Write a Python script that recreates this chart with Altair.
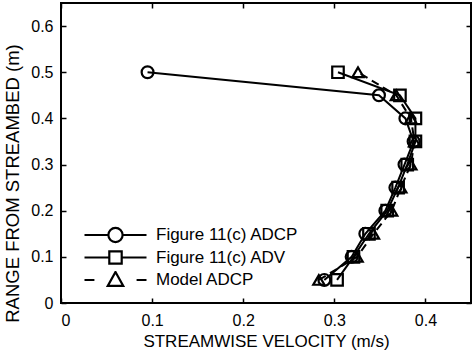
import altair as alt
import pandas as pd

depth = [0.05, 0.10, 0.15, 0.20, 0.25, 0.30, 0.35, 0.40, 0.45, 0.50]
adcp = [0.289, 0.319, 0.334, 0.356, 0.367, 0.377, 0.387, 0.378, 0.349, 0.095]
adv = [0.303, 0.321, 0.338, 0.358, 0.370, 0.380, 0.389, 0.389, 0.372, 0.304]
model = [0.283, 0.325, 0.343, 0.363, 0.373, 0.384, 0.388, 0.384, 0.368, 0.326]
series = ["Figure 11(c) ADCP", "Figure 11(c) ADV", "Model ADCP"]
x_ticks = [0, 0.1, 0.2, 0.3, 0.4]
y_ticks = [0, 0.1, 0.2, 0.3, 0.4, 0.5, 0.6]

rows = []
for name, vals in zip(series, [adcp, adv, model]):
    for d, v in zip(depth, vals):
        rows.append({"series": name, "velocity": v, "depth": d})
df = pd.DataFrame(rows)

W, H = 410, 300
FONT = "Liberation Sans"

xs = alt.Scale(domain=[0, 0.45], nice=False, zero=False)
ys = alt.Scale(domain=[0, 0.65], nice=False, zero=False)

# legend symbol paths (line + marker), units: 1 = half symbol width
p_adcp = "M-1,0H-0.23M0.23,0H1M0.23,0A0.23,0.23,0,1,1,-0.23,0A0.23,0.23,0,1,1,0.23,0Z"
p_adv = "M-1,0H-0.2M0.2,0H1M-0.2,-0.2H0.2V0.2H-0.2Z"
p_model = "M-1,0H-0.68M0.68,0H1M0,-0.26L0.25,0.19H-0.25Z"

ax_main_x = alt.Axis(orient="bottom", values=x_ticks, ticks=False, domain=False, grid=False,
                     labelFontSize=16, labelFont=FONT, labelColor="black", labelPadding=9,
                     title="STREAMWISE VELOCITY (m/s)", titleFontSize=17, titleFont=FONT,
                     titleFontWeight="normal", titleColor="black", titlePadding=5, format="~g")
ax_main_y = alt.Axis(orient="left", values=y_ticks, ticks=False, domain=False, grid=False,
                     labelFontSize=16, labelFont=FONT, labelColor="black", labelPadding=8,
                     title="RANGE FROM STREAMBED (m)", titleFontSize=18.5, titleFont=FONT,
                     titleFontWeight="normal", titleColor="black", titlePadding=8,
                     titleY=180, format="~g")

def tick_axis(orient, offset):
    return alt.Axis(orient=orient, offset=offset, values=(x_ticks if orient in ("top", "bottom") else y_ticks),
                    ticks=True, tickSize=5, tickWidth=1.5, tickColor="black",
                    labels=False, domain=False, grid=False, title=None)

solid = df[df.series != "Model ADCP"]
dashed = df[df.series == "Model ADCP"]

lines_solid = alt.Chart(solid).mark_line(color="black", strokeWidth=2).encode(
    x=alt.X("velocity:Q", scale=xs, axis=ax_main_x),
    y=alt.Y("depth:Q", scale=ys, axis=ax_main_y),
    detail="series:N",
    order=alt.Order("depth:Q"),
)

line_model = alt.Chart(dashed).mark_line(color="black", strokeWidth=2, strokeDash=[8, 5]).encode(
    x=alt.X("velocity:Q", scale=xs, axis=tick_axis("bottom", -H)),
    y=alt.Y("depth:Q", scale=ys, axis=tick_axis("left", -W)),
    order=alt.Order("depth:Q"),
)

points = alt.Chart(df).mark_point(filled=False, stroke="black", strokeWidth=2.2, opacity=1).encode(
    x=alt.X("velocity:Q", scale=xs, axis=tick_axis("top", -H)),
    y=alt.Y("depth:Q", scale=ys, axis=tick_axis("right", -W)),
    shape=alt.Shape("series:N",
                    scale=alt.Scale(domain=series, range=["circle", "square", "triangle-up"]),
                    legend=None),
    size=alt.Size("series:N",
                  scale=alt.Scale(domain=series, range=[140, 125, 180]),
                  legend=None),
)

# legend-only layer: no rows survive the filter, legend comes from the explicit domain
legend_layer = alt.Chart(df).transform_filter("datum.depth > 10").mark_point(
    filled=False, stroke="black", strokeWidth=2, opacity=1
).encode(
    x=alt.X("velocity:Q", scale=xs, axis=None),
    y=alt.Y("depth:Q", scale=ys, axis=None),
    shape=alt.Shape("series:N",
                    scale=alt.Scale(domain=series, range=[p_adcp, p_adv, p_model]),
                    legend=alt.Legend(
                        title=None, orient="none", legendX=22, legendY=223,
                        labelFontSize=17, labelFont=FONT, labelColor="black",
                        labelOffset=8, symbolSize=3844, clipHeight=18, rowPadding=4.5,
                        padding=0, symbolStrokeWidth=2.2, symbolStrokeColor="black",
                        symbolFillColor="transparent", symbolOpacity=1,
                    )),
)

chart = alt.layer(lines_solid, line_model, points, legend_layer).resolve_axis(
    x="independent", y="independent"
).resolve_scale(shape="independent", size="independent").properties(
    width=W, height=H,
    autosize=alt.AutoSizeParams(type="none"),
    padding={"left": 61, "top": 3, "right": 3, "bottom": 50},
    background="white",
).configure_view(stroke="black", strokeWidth=2)

chart.save("out.html", embed_options={"renderer": "svg", "actions": False})
